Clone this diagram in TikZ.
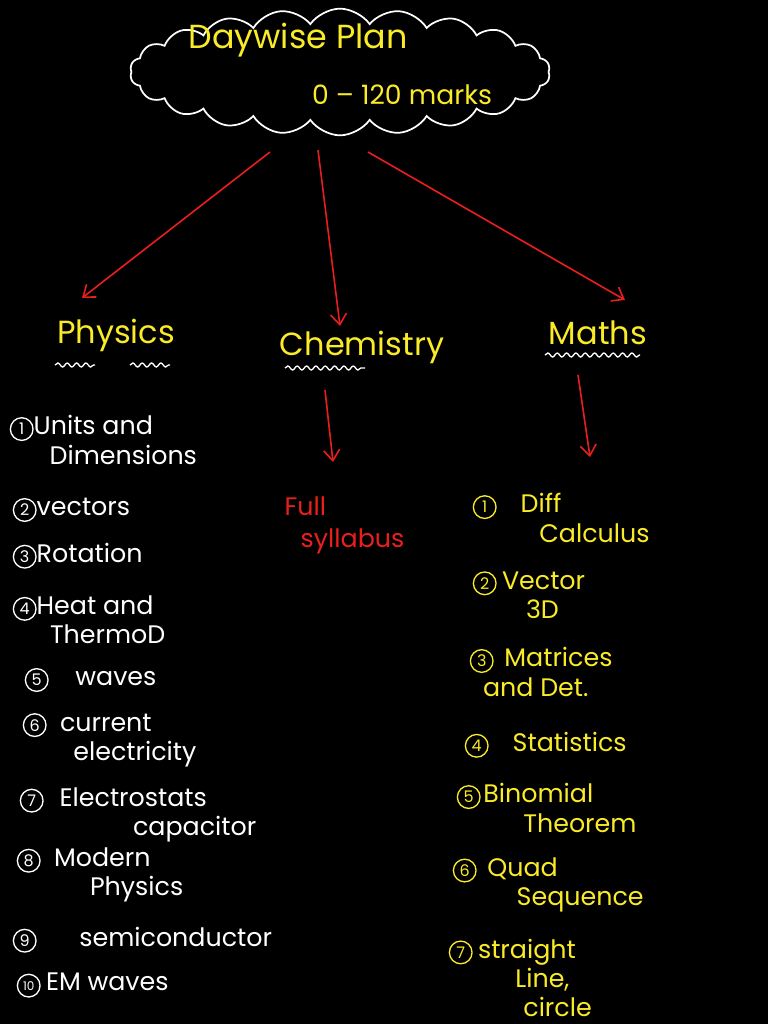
\documentclass[tikz,border=0pt]{standalone}
\usepackage{fontspec}
\setmainfont{Poppins}
\usetikzlibrary{shapes.symbols,decorations.pathmorphing,arrows.meta}
\definecolor{yel}{RGB}{250,235,40}
\definecolor{rd}{RGB}{235,30,30}
\newcommand{\cnum}[1]{\tikz[baseline=(k.base)]\node[draw,circle,line width=1pt,inner sep=0pt,minimum size=17pt,font=\fontsize{12}{12}\selectfont] (k) {#1};}
\tikzset{
 wt/.style={text=white,draw=none,font=\fontsize{19}{22}\selectfont,anchor=west,align=left},
 yt/.style={text=yel,font=\fontsize{19}{22}\selectfont,anchor=west,align=left},
 head/.style={text=yel,font=\fontsize{24}{28}\selectfont},
 arr/.style={draw=rd,line width=1.2pt,-{Straight Barb[length=8pt,width=12pt]}},
 squig/.style={draw=white,line width=1pt,decorate,decoration={snake,amplitude=1.5pt,segment length=7pt}}
}
\begin{document}
\begin{tikzpicture}[x=0.75pt,y=-0.75pt]
\fill[black] (0,0) rectangle (768,1024);
\useasboundingbox (0,0) rectangle (768,1024);
\node[cloud,draw=white,line width=1.3pt,cloud puffs=22,cloud puff arc=110,aspect=3.6,minimum width=315,minimum height=95] (cloud) at (340,72) {};
\node[head,font=\fontsize{25}{30}\selectfont] (title) at (298,40) {Daywise Plan};
\node[head,font=\fontsize{20}{24}\selectfont] (marks) at (402,95) {0 -- 120 marks};
\coordinate (c1) at (270,152); \coordinate (c2) at (318,150); \coordinate (c3) at (368,152);
\node[head] (phy) at (116,335) {Physics};
\node[head] (chem) at (362,347) {Chemistry};
\node[head] (math) at (598,333) {Maths};
\draw[squig] (55,365)--(95,365); \draw[squig] (130,365)--(170,365);
\draw[squig] (285,368)--(365,368);
\draw[squig] (545,355)--(640,355);
\coordinate (pa) at (82,298); \coordinate (ca) at (340,326); \coordinate (ma) at (625,300);
\draw[arr] (c1)--(pa); \draw[arr] (c2)--(ca); \draw[arr] (c3)--(ma);
\coordinate (cs) at (325,390); \coordinate (ce) at (333,462);
\coordinate (ms) at (578,375); \coordinate (me) at (590,457);
\draw[arr] (cs)--(ce); \draw[arr] (ms)--(me);
\node[text=rd,font=\fontsize{19}{24}\selectfont,align=left,anchor=west] (full) at (280,525) {Full\\\hspace{12pt}syllabus};
% physics list
\node[wt] (p1) at (5,440) {\cnum{1}Units and\\\hspace{30pt}Dimensions};
\node[wt] (p2) at (8,510) {\cnum{2}vectors};
\node[wt] (p3) at (8,556) {\cnum{3}Rotation};
\node[wt] (p4) at (8,620) {\cnum{4}Heat and\\\hspace{28pt}ThermoD};
\node[wt] (p5) at (20,680) {\cnum{5}\hspace{20pt}waves};
\node[wt] (p6) at (18,740) {\cnum{6}\hspace{10pt}current\\\hspace{38pt}electricity};
\node[wt] (p7) at (15,815) {\cnum{7}\hspace{12pt}Electrostats\\\hspace{85pt}capacitor};
\node[wt] (p8) at (12,875) {\cnum{8}\hspace{10pt}Modern\\\hspace{55pt}Physics};
\node[wt] (p9) at (8,940) {\cnum{9}\hspace{32pt}semiconductor};
\node[wt] (p10) at (12,985) {\cnum{\fontsize{9}{9}\selectfont 10}\hspace{4pt}EM waves};
% maths list
\node[yt] (m1) at (468,518) {\cnum{1}\hspace{18pt}Diff\\\hspace{50pt}Calculus};
\node[yt] (m2) at (468,595) {\cnum{2}\hspace{4pt}Vector\\\hspace{40pt}3D};
\node[yt] (m3) at (465,672) {\cnum{3}\hspace{8pt}Matrices\\\hspace{10pt}and Det.};
\node[yt] (m4) at (460,745) {\cnum{4}\hspace{18pt}Statistics};
\node[yt] (m5) at (452,808) {\cnum{5}\hspace{2pt}Binomial\\\hspace{50pt}Theorem};
\node[yt] (m6) at (448,885) {\cnum{6}\hspace{8pt}Quad\\\hspace{48pt}Sequence};
\node[yt] (m7) at (444,978) {\cnum{7}\hspace{4pt}straight\\\hspace{50pt}Line,\\\hspace{56pt}circle};
\end{tikzpicture}
\end{document}
